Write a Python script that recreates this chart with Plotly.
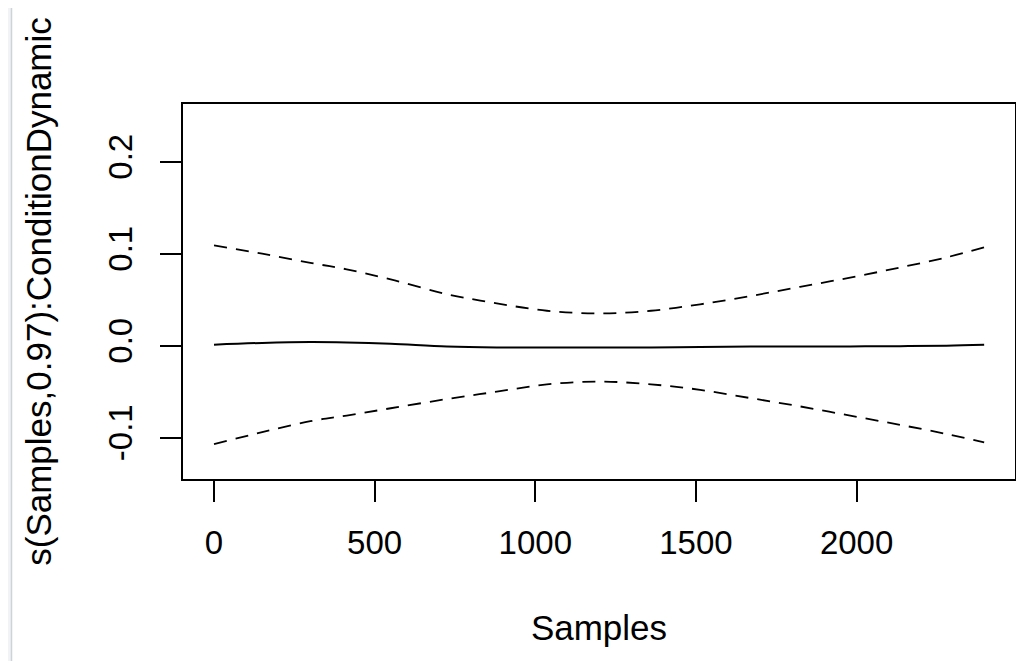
import plotly.graph_objects as go

# Smooth term
samples = [0, 150, 300, 413, 550, 725, 880, 1036, 1200, 1360, 1513, 1670, 1824, 1980, 2135, 2280, 2397]
fit = [0.001, 0.003, 0.004, 0.0035, 0.002, -0.001, -0.002, -0.002, -0.002, -0.002, -0.0015, -0.001, -0.001, -0.0008, -0.0005, 0.0, 0.001]
upper = [0.109, 0.100, 0.090, 0.083, 0.072, 0.056, 0.046, 0.038, 0.035, 0.038, 0.045, 0.054, 0.064, 0.074, 0.085, 0.096, 0.107]
lower = [-0.107, -0.094, -0.082, -0.076, -0.068, -0.058, -0.050, -0.042, -0.039, -0.042, -0.048, -0.057, -0.066, -0.076, -0.086, -0.096, -0.105]

x_ticks = [0, 500, 1000, 1500, 2000]
y_ticks = [-0.1, 0.0, 0.1, 0.2]
y_labels = ["-0.1", "0.0", "0.1", "0.2"]

font = "Liberation Sans, Arial, sans-serif"

fig = go.Figure()

fig.add_trace(go.Scatter(x=samples, y=upper, mode="lines", line=dict(color="black", width=1.8, dash="13px,9px", shape="spline")))
fig.add_trace(go.Scatter(x=samples, y=fit, mode="lines", line=dict(color="black", width=2, shape="spline")))
fig.add_trace(go.Scatter(x=samples, y=lower, mode="lines", line=dict(color="black", width=1.8, dash="13px,9px", shape="spline")))

# page body adds 8px around the figure, so the figure is 8px smaller
fig.update_layout(
    width=1016, height=653,
    margin=dict(l=175, r=9, t=96, b=182),
    paper_bgcolor="white", plot_bgcolor="white",
    showlegend=False,
    font=dict(family=font, size=33, color="black"),
)

fig.update_xaxes(
    range=[-96.5, 2493], automargin=False,
    tickvals=x_ticks, ticktext=[str(v) for v in x_ticks],
    ticks="outside", ticklen=21, tickwidth=1.6, tickcolor="black",
    showline=True, linecolor="black", linewidth=1.8, mirror=True,
    showgrid=False, zeroline=False,
    ticklabelstandoff=12,
    title=dict(text="Samples", standoff=56, font=dict(size=35)),
)
fig.update_yaxes(
    range=[-0.1449, 0.2627], automargin=False,
    tickvals=y_ticks, ticktext=y_labels, tickangle=-90,
    ticks="outside", ticklen=21, tickwidth=1.6, tickcolor="black",
    showline=True, linecolor="black", linewidth=1.8, mirror=True,
    showgrid=False, zeroline=False,
    ticklabelstandoff=15,
    title=dict(text="s(Samples,0.97):ConditionDynamic", standoff=40, font=dict(size=35)),
)

# grey strip on the left edge of the screenshot
fig.add_shape(type="rect", xref="paper", yref="paper", xsizemode="pixel", ysizemode="pixel",
              xanchor=0, yanchor=0, x0=-175, x1=-172, y0=-182, y1=479,
              fillcolor="#f1f3f5", line=dict(width=0), layer="below")
fig.add_shape(type="line", xref="paper", yref="paper", xsizemode="pixel", ysizemode="pixel",
              xanchor=0, yanchor=0, x0=-171.5, x1=-171.5, y0=-182, y1=479,
              line=dict(color="#cfd3d7", width=1.5))

fig.write_html("out.html")
